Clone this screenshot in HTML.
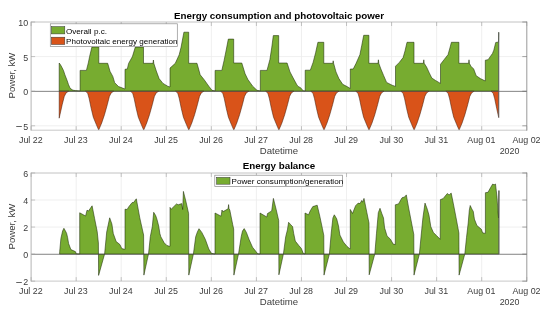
<!DOCTYPE html>
<html><head><meta charset="utf-8"><title>Energy consumption and photovoltaic power</title>
<style>
html,body{margin:0;padding:0;background:#fff;}
body{width:550px;height:315px;overflow:hidden;}
svg{display:block;font-family:"Liberation Sans",sans-serif;}
.tk{font-size:8.9px;fill:#3c3c3c;}
.lb{font-size:9.6px;fill:#3c3c3c;}
.tt{font-size:9.8px;font-weight:bold;fill:#000;}
.lg{font-size:8.1px;fill:#000;}
</style></head><body>
<svg width="550" height="315" viewBox="0 0 550 315">
<rect width="550" height="315" fill="#fff"/>
<g id="top-plot">
<line x1="76.16" y1="22.0" x2="76.16" y2="130.2" stroke="#ebebeb" stroke-width="0.8"/>
<line x1="121.22" y1="22.0" x2="121.22" y2="130.2" stroke="#ebebeb" stroke-width="0.8"/>
<line x1="166.28" y1="22.0" x2="166.28" y2="130.2" stroke="#ebebeb" stroke-width="0.8"/>
<line x1="211.34" y1="22.0" x2="211.34" y2="130.2" stroke="#ebebeb" stroke-width="0.8"/>
<line x1="256.40" y1="22.0" x2="256.40" y2="130.2" stroke="#ebebeb" stroke-width="0.8"/>
<line x1="301.46" y1="22.0" x2="301.46" y2="130.2" stroke="#ebebeb" stroke-width="0.8"/>
<line x1="346.52" y1="22.0" x2="346.52" y2="130.2" stroke="#ebebeb" stroke-width="0.8"/>
<line x1="391.58" y1="22.0" x2="391.58" y2="130.2" stroke="#ebebeb" stroke-width="0.8"/>
<line x1="436.64" y1="22.0" x2="436.64" y2="130.2" stroke="#ebebeb" stroke-width="0.8"/>
<line x1="481.70" y1="22.0" x2="481.70" y2="130.2" stroke="#ebebeb" stroke-width="0.8"/>
<line x1="31.1" y1="56.60" x2="526.8" y2="56.60" stroke="#ebebeb" stroke-width="0.8"/>
<line x1="31.1" y1="91.20" x2="526.8" y2="91.20" stroke="#ebebeb" stroke-width="0.8"/>
<line x1="31.1" y1="125.80" x2="526.8" y2="125.80" stroke="#ebebeb" stroke-width="0.8"/>
<path d="M59.2,91.2 L59.2,63.0 L60.5,64.8 L62.0,67.5 L63.5,70.5 L64.8,74.5 L66.0,77.6 L67.3,81.0 L68.5,84.6 L69.8,87.5 L71.1,89.1 L73.0,90.2 L75.5,90.6 L80.1,90.9 L80.1,70.4 L86.4,70.4 L88.3,62.9 L89.6,56.5 L91.9,47.0 L98.8,47.0 L98.8,63.3 L107.7,63.3 L110.0,71.3 L112.8,76.4 L114.7,82.7 L118.5,86.5 L124.5,88.8 L125.0,88.8 L125.0,69.3 L127.3,69.0 L128.6,63.4 L132.4,56.6 L135.3,47.1 L143.5,47.1 L143.5,63.3 L153.0,63.3 L153.4,60.0 L153.8,63.3 L156.3,71.0 L159.1,78.6 L163.0,83.4 L167.7,86.2 L170.0,87.0 L170.0,68.1 L175.3,63.3 L179.2,54.7 L181.1,47.1 L183.9,32.2 L188.7,32.2 L188.7,63.3 L197.0,63.3 L200.2,74.8 L204.0,79.5 L208.8,86.2 L212.0,90.3 L215.1,90.9 L215.1,70.4 L221.8,70.4 L224.1,60.4 L226.4,49.0 L228.3,39.1 L233.7,39.1 L233.7,63.0 L241.8,63.0 L245.1,73.8 L247.9,79.5 L252.7,86.2 L257.0,90.3 L260.3,90.9 L260.3,70.4 L267.0,70.4 L269.9,59.5 L271.8,47.1 L273.3,35.6 L278.7,35.6 L278.7,63.0 L287.1,63.0 L290.0,71.9 L293.2,78.0 L296.6,84.3 L298.0,86.4 L300.6,87.7 L303.2,90.8 L305.2,91.0 L305.2,70.2 L310.3,70.2 L313.1,62.4 L315.6,52.8 L317.9,42.3 L323.8,42.3 L323.8,63.3 L332.8,63.3 L333.2,60.8 L333.6,63.3 L336.0,71.9 L338.9,78.6 L342.7,84.3 L347.5,86.8 L350.3,88.5 L350.3,69.0 L353.2,69.0 L356.1,63.3 L359.9,54.7 L361.8,45.2 L363.7,35.3 L368.9,35.3 L368.9,63.3 L378.0,63.3 L378.4,59.8 L378.8,63.3 L380.9,69.0 L383.7,75.7 L386.6,82.4 L392.3,85.3 L395.5,86.4 L395.5,66.2 L399.3,62.4 L403.1,57.6 L405.0,50.9 L407.0,42.3 L414.0,42.3 L414.0,63.3 L423.4,63.3 L423.8,59.8 L424.2,63.3 L426.6,67.1 L429.3,72.9 L431.8,78.0 L435.6,80.5 L440.5,83.4 L440.5,64.3 L444.2,59.5 L448.0,54.7 L449.9,48.0 L451.4,42.3 L458.9,42.3 L458.9,63.3 L468.6,63.3 L469.0,59.8 L469.4,63.3 L470.9,66.2 L473.7,69.0 L476.2,75.7 L480.4,78.6 L485.3,81.0 L485.3,60.2 L488.1,59.7 L492.5,53.4 L493.8,50.2 L495.7,42.5 L498.5,42.0 L498.7,32.3 L498.7,91.2Z" fill="#77ac30" stroke="#1c2a08" stroke-width="0.55" stroke-linejoin="round"/>
<path d="M59.2,91.2 L59.2,118.2 L62.2,104.7 L64.3,96.4 L66.1,92.9 L68.6,91.2Z" fill="#d95319" stroke="#3a1505" stroke-width="0.5" stroke-linejoin="round"/>
<path d="M85.5,91.2 L87.7,93.3 L89.2,98.8 L91.2,108.5 L93.3,117.2 L96.1,124.1 L98.7,130.1 L101.7,123.0 L104.5,114.7 L107.3,104.7 L109.4,96.4 L111.2,92.9 L113.7,91.2Z" fill="#d95319" stroke="#3a1505" stroke-width="0.5" stroke-linejoin="round"/>
<path d="M130.5,91.2 L132.7,93.3 L134.2,98.8 L136.2,108.5 L138.3,117.2 L141.1,124.1 L143.7,130.1 L146.7,123.0 L149.5,114.7 L152.3,104.7 L154.4,96.4 L156.2,92.9 L158.7,91.2Z" fill="#d95319" stroke="#3a1505" stroke-width="0.5" stroke-linejoin="round"/>
<path d="M175.6,91.2 L177.8,93.3 L179.3,98.8 L181.3,108.5 L183.4,117.2 L186.2,124.1 L188.8,130.1 L191.8,123.0 L194.6,114.7 L197.4,104.7 L199.5,96.4 L201.3,92.9 L203.8,91.2Z" fill="#d95319" stroke="#3a1505" stroke-width="0.5" stroke-linejoin="round"/>
<path d="M220.6,91.2 L222.8,93.3 L224.3,98.8 L226.3,108.5 L228.4,117.2 L231.2,124.1 L233.8,130.1 L236.8,123.0 L239.6,114.7 L242.4,104.7 L244.5,96.4 L246.3,92.9 L248.8,91.2Z" fill="#d95319" stroke="#3a1505" stroke-width="0.5" stroke-linejoin="round"/>
<path d="M265.7,91.2 L267.9,93.3 L269.4,98.8 L271.4,108.5 L273.5,117.2 L276.3,124.1 L278.9,130.1 L281.9,123.0 L284.7,114.7 L287.5,104.7 L289.6,96.4 L291.4,92.9 L293.9,91.2Z" fill="#d95319" stroke="#3a1505" stroke-width="0.5" stroke-linejoin="round"/>
<path d="M310.8,91.2 L313.0,93.3 L314.5,98.8 L316.5,108.5 L318.6,117.2 L321.4,124.1 L324.0,130.1 L327.0,123.0 L329.8,114.7 L332.6,104.7 L334.7,96.4 L336.5,92.9 L339.0,91.2Z" fill="#d95319" stroke="#3a1505" stroke-width="0.5" stroke-linejoin="round"/>
<path d="M355.8,91.2 L358.0,93.3 L359.5,98.8 L361.5,108.5 L363.6,117.2 L366.4,124.1 L369.0,130.1 L372.0,123.0 L374.8,114.7 L377.6,104.7 L379.7,96.4 L381.5,92.9 L384.0,91.2Z" fill="#d95319" stroke="#3a1505" stroke-width="0.5" stroke-linejoin="round"/>
<path d="M400.9,91.2 L403.1,93.3 L404.6,98.8 L406.6,108.5 L408.7,117.2 L411.5,124.1 L414.1,130.1 L417.1,123.0 L419.9,114.7 L422.7,104.7 L424.8,96.4 L426.6,92.9 L429.1,91.2Z" fill="#d95319" stroke="#3a1505" stroke-width="0.5" stroke-linejoin="round"/>
<path d="M445.9,91.2 L448.1,93.3 L449.6,98.8 L451.6,108.5 L453.7,117.2 L456.5,124.1 L459.1,130.1 L462.1,123.0 L464.9,114.7 L467.7,104.7 L469.8,96.4 L471.6,92.9 L474.1,91.2Z" fill="#d95319" stroke="#3a1505" stroke-width="0.5" stroke-linejoin="round"/>
<path d="M491.0,91.2 L493.2,93.3 L494.7,98.8 L496.7,108.5 L498.7,117.5 L498.7,91.2Z" fill="#d95319" stroke="#3a1505" stroke-width="0.5" stroke-linejoin="round"/>
<line x1="31.1" y1="91.4" x2="526.8" y2="91.4" stroke="#505050" stroke-width="0.65"/>
<line x1="498.7" y1="32.3" x2="498.7" y2="117.5" stroke="#666" stroke-width="0.8"/>
</g>
<line x1="31.1" y1="21.5" x2="31.1" y2="130.7" stroke="#b4b4b4" stroke-width="1"/>
<line x1="31.1" y1="22.0" x2="526.8" y2="22.0" stroke="#c2c2c2" stroke-width="1"/>
<line x1="31.1" y1="130.2" x2="526.8" y2="130.2" stroke="#c8c8c8" stroke-width="1"/>
<line x1="526.8" y1="21.5" x2="526.8" y2="130.7" stroke="#808080" stroke-width="0.8"/>
<line x1="31.10" y1="130.2" x2="31.10" y2="126.19999999999999" stroke="#a0a0a0" stroke-width="0.6"/>
<line x1="31.10" y1="22.0" x2="31.10" y2="26.0" stroke="#a0a0a0" stroke-width="0.6"/>
<line x1="76.16" y1="130.2" x2="76.16" y2="126.19999999999999" stroke="#a0a0a0" stroke-width="0.6"/>
<line x1="76.16" y1="22.0" x2="76.16" y2="26.0" stroke="#a0a0a0" stroke-width="0.6"/>
<line x1="121.22" y1="130.2" x2="121.22" y2="126.19999999999999" stroke="#a0a0a0" stroke-width="0.6"/>
<line x1="121.22" y1="22.0" x2="121.22" y2="26.0" stroke="#a0a0a0" stroke-width="0.6"/>
<line x1="166.28" y1="130.2" x2="166.28" y2="126.19999999999999" stroke="#a0a0a0" stroke-width="0.6"/>
<line x1="166.28" y1="22.0" x2="166.28" y2="26.0" stroke="#a0a0a0" stroke-width="0.6"/>
<line x1="211.34" y1="130.2" x2="211.34" y2="126.19999999999999" stroke="#a0a0a0" stroke-width="0.6"/>
<line x1="211.34" y1="22.0" x2="211.34" y2="26.0" stroke="#a0a0a0" stroke-width="0.6"/>
<line x1="256.40" y1="130.2" x2="256.40" y2="126.19999999999999" stroke="#a0a0a0" stroke-width="0.6"/>
<line x1="256.40" y1="22.0" x2="256.40" y2="26.0" stroke="#a0a0a0" stroke-width="0.6"/>
<line x1="301.46" y1="130.2" x2="301.46" y2="126.19999999999999" stroke="#a0a0a0" stroke-width="0.6"/>
<line x1="301.46" y1="22.0" x2="301.46" y2="26.0" stroke="#a0a0a0" stroke-width="0.6"/>
<line x1="346.52" y1="130.2" x2="346.52" y2="126.19999999999999" stroke="#a0a0a0" stroke-width="0.6"/>
<line x1="346.52" y1="22.0" x2="346.52" y2="26.0" stroke="#a0a0a0" stroke-width="0.6"/>
<line x1="391.58" y1="130.2" x2="391.58" y2="126.19999999999999" stroke="#a0a0a0" stroke-width="0.6"/>
<line x1="391.58" y1="22.0" x2="391.58" y2="26.0" stroke="#a0a0a0" stroke-width="0.6"/>
<line x1="436.64" y1="130.2" x2="436.64" y2="126.19999999999999" stroke="#a0a0a0" stroke-width="0.6"/>
<line x1="436.64" y1="22.0" x2="436.64" y2="26.0" stroke="#a0a0a0" stroke-width="0.6"/>
<line x1="481.70" y1="130.2" x2="481.70" y2="126.19999999999999" stroke="#a0a0a0" stroke-width="0.6"/>
<line x1="481.70" y1="22.0" x2="481.70" y2="26.0" stroke="#a0a0a0" stroke-width="0.6"/>
<line x1="526.76" y1="130.2" x2="526.76" y2="126.19999999999999" stroke="#a0a0a0" stroke-width="0.6"/>
<line x1="526.76" y1="22.0" x2="526.76" y2="26.0" stroke="#a0a0a0" stroke-width="0.6"/>
<line x1="31.1" y1="22.00" x2="35.1" y2="22.00" stroke="#a0a0a0" stroke-width="0.6"/>
<line x1="526.8" y1="22.00" x2="522.3" y2="22.00" stroke="#6a6a6a" stroke-width="0.6"/>
<text class="tk" x="28.2" y="25.9" text-anchor="end">10</text>
<line x1="31.1" y1="56.60" x2="35.1" y2="56.60" stroke="#a0a0a0" stroke-width="0.6"/>
<line x1="526.8" y1="56.60" x2="522.3" y2="56.60" stroke="#6a6a6a" stroke-width="0.6"/>
<text class="tk" x="28.2" y="60.5" text-anchor="end">5</text>
<line x1="31.1" y1="91.20" x2="35.1" y2="91.20" stroke="#a0a0a0" stroke-width="0.6"/>
<line x1="526.8" y1="91.20" x2="522.3" y2="91.20" stroke="#6a6a6a" stroke-width="0.6"/>
<text class="tk" x="28.2" y="95.1" text-anchor="end">0</text>
<line x1="31.1" y1="125.80" x2="35.1" y2="125.80" stroke="#a0a0a0" stroke-width="0.6"/>
<line x1="526.8" y1="125.80" x2="522.3" y2="125.80" stroke="#6a6a6a" stroke-width="0.6"/>
<text class="tk" x="28.2" y="129.7" text-anchor="end"><tspan style="font-size:11.5px" dy="0.7">−</tspan><tspan dx="0.9" dy="-0.7">5</tspan></text>
<text class="tk" x="30.8" y="142.7" text-anchor="middle">Jul 22</text>
<text class="tk" x="75.9" y="142.7" text-anchor="middle">Jul 23</text>
<text class="tk" x="120.9" y="142.7" text-anchor="middle">Jul 24</text>
<text class="tk" x="166.0" y="142.7" text-anchor="middle">Jul 25</text>
<text class="tk" x="211.0" y="142.7" text-anchor="middle">Jul 26</text>
<text class="tk" x="256.1" y="142.7" text-anchor="middle">Jul 27</text>
<text class="tk" x="301.2" y="142.7" text-anchor="middle">Jul 28</text>
<text class="tk" x="346.2" y="142.7" text-anchor="middle">Jul 29</text>
<text class="tk" x="391.3" y="142.7" text-anchor="middle">Jul 30</text>
<text class="tk" x="436.3" y="142.7" text-anchor="middle">Jul 31</text>
<text class="tk" x="481.4" y="142.7" text-anchor="middle">Aug 01</text>
<text class="tk" x="526.5" y="142.7" text-anchor="middle">Aug 02</text>
<text class="lb" x="279" y="154.2" text-anchor="middle">Datetime</text>
<text class="tk" x="509.5" y="153.6" text-anchor="middle">2020</text>
<text class="lb" transform="translate(14.6,75.6) rotate(-90)" text-anchor="middle">Power, kW</text>
<text class="tt" x="279" y="18.6" text-anchor="middle">Energy consumption and photovoltaic power</text>
<g id="legend-top"><rect x="50.3" y="23.8" width="127.0" height="22.8" fill="#fff" stroke="#8c8c8c" stroke-width="0.7"/>
<rect x="51.4" y="26.6" width="13.4" height="7.3" fill="#77ac30" stroke="#333" stroke-width="0.5"/>
<rect x="51.4" y="37.2" width="13.4" height="7.3" fill="#d95319" stroke="#333" stroke-width="0.5"/>
<text class="lg" x="66.0" y="33.5">Overall p.c.</text>
<text class="lg" x="66.0" y="43.8">Photovoltaic energy generation</text></g>
<g id="bottom-plot">
<line x1="76.16" y1="173.0" x2="76.16" y2="281.1" stroke="#ebebeb" stroke-width="0.8"/>
<line x1="121.22" y1="173.0" x2="121.22" y2="281.1" stroke="#ebebeb" stroke-width="0.8"/>
<line x1="166.28" y1="173.0" x2="166.28" y2="281.1" stroke="#ebebeb" stroke-width="0.8"/>
<line x1="211.34" y1="173.0" x2="211.34" y2="281.1" stroke="#ebebeb" stroke-width="0.8"/>
<line x1="256.40" y1="173.0" x2="256.40" y2="281.1" stroke="#ebebeb" stroke-width="0.8"/>
<line x1="301.46" y1="173.0" x2="301.46" y2="281.1" stroke="#ebebeb" stroke-width="0.8"/>
<line x1="346.52" y1="173.0" x2="346.52" y2="281.1" stroke="#ebebeb" stroke-width="0.8"/>
<line x1="391.58" y1="173.0" x2="391.58" y2="281.1" stroke="#ebebeb" stroke-width="0.8"/>
<line x1="436.64" y1="173.0" x2="436.64" y2="281.1" stroke="#ebebeb" stroke-width="0.8"/>
<line x1="481.70" y1="173.0" x2="481.70" y2="281.1" stroke="#ebebeb" stroke-width="0.8"/>
<line x1="31.1" y1="200.02" x2="526.8" y2="200.02" stroke="#ebebeb" stroke-width="0.8"/>
<line x1="31.1" y1="227.06" x2="526.8" y2="227.06" stroke="#ebebeb" stroke-width="0.8"/>
<line x1="31.1" y1="254.10" x2="526.8" y2="254.10" stroke="#ebebeb" stroke-width="0.8"/>
<path d="M59.6,254.1 L59.7,251.4 L60.9,238.4 L62.6,231.0 L63.9,228.3 L65.2,230.5 L66.6,233.3 L67.6,237.5 L68.6,243.5 L70.9,249.6 L75.4,251.6 L76.3,253.8 L79.7,254.0 L79.7,212.8 L85.6,216.0 L87.0,210.2 L88.5,211.0 L92.1,205.8 L94.6,218.5 L97.2,231.5 L98.4,243.0 L98.6,275.4 L104.6,254.0 L106.7,232.0 L109.7,217.8 L111.9,224.0 L113.3,233.6 L116.2,241.6 L119.9,244.5 L121.8,248.6 L124.6,249.3 L125.0,249.3 L125.0,209.2 L127.1,209.5 L129.0,206.4 L132.2,202.5 L133.5,202.6 L136.3,198.8 L139.8,217.9 L143.6,235.0 L143.9,275.1 L148.5,254.0 L150.3,236.7 L152.3,226.6 L153.7,212.3 L155.7,215.6 L157.0,219.4 L158.7,226.0 L159.9,233.6 L160.8,236.7 L164.2,242.8 L166.9,245.5 L169.5,246.3 L170.0,246.3 L170.0,207.4 L171.2,209.2 L176.5,203.9 L178.2,204.8 L181.7,203.6 L182.7,209.5 L183.4,191.4 L186.1,202.2 L188.6,213.5 L188.8,275.1 L193.4,254.0 L195.7,236.7 L197.4,231.9 L199.0,228.7 L201.8,232.4 L205.3,239.3 L208.8,249.0 L211.4,253.3 L215.0,254.0 L215.0,213.0 L221.1,216.2 L222.0,210.0 L222.8,211.8 L228.1,208.8 L228.6,204.6 L229.0,208.5 L229.8,210.0 L231.2,217.0 L232.7,224.5 L233.7,229.0 L233.9,275.1 L238.5,254.0 L241.2,236.7 L242.5,231.0 L244.2,228.6 L246.4,232.4 L249.0,239.3 L252.5,247.2 L256.0,251.6 L257.7,253.8 L260.0,254.0 L260.0,213.0 L266.8,217.0 L267.5,213.5 L271.7,210.9 L273.4,198.4 L276.1,209.2 L278.7,220.5 L278.9,274.8 L283.4,254.0 L285.7,236.7 L287.4,229.9 L288.6,222.3 L290.9,224.9 L292.6,226.6 L293.7,233.4 L295.3,241.1 L298.8,245.5 L301.4,248.6 L303.2,253.3 L305.0,254.0 L305.0,213.0 L308.5,214.8 L310.2,210.9 L312.8,206.6 L317.2,205.2 L319.8,216.2 L322.4,228.4 L323.8,235.5 L324.0,275.1 L329.4,254.0 L331.2,233.2 L332.9,217.9 L334.3,214.8 L336.7,218.8 L338.5,226.0 L339.9,235.0 L343.4,242.0 L346.9,246.3 L350.0,248.9 L350.3,248.9 L350.3,209.5 L352.5,213.5 L355.6,205.7 L358.2,203.1 L360.0,203.6 L361.7,200.5 L362.6,202.2 L364.0,198.4 L366.9,212.7 L369.0,223.1 L369.2,274.8 L374.8,254.0 L376.5,233.2 L378.3,212.7 L380.0,208.3 L381.8,213.5 L383.5,217.9 L384.6,228.0 L385.3,230.1 L387.0,235.9 L390.5,239.3 L393.2,244.1 L395.3,244.6 L395.3,204.8 L398.5,203.9 L402.0,197.8 L404.6,197.0 L406.3,194.9 L408.9,209.2 L411.6,223.1 L413.8,234.5 L414.0,275.1 L419.4,254.0 L421.2,235.0 L422.9,217.9 L425.0,203.1 L427.3,209.2 L429.0,215.3 L430.8,226.6 L433.4,232.5 L436.5,235.6 L440.2,239.3 L440.4,199.6 L443.0,198.7 L447.3,193.5 L449.1,194.9 L451.2,193.1 L453.4,203.9 L456.1,217.9 L458.9,233.0 L459.1,275.1 L464.8,254.0 L466.5,237.5 L468.2,223.0 L469.3,210.2 L470.2,205.5 L471.8,208.9 L473.3,211.5 L474.4,219.1 L476.9,225.5 L481.4,229.3 L482.6,232.8 L485.4,233.4 L485.4,192.7 L488.0,192.3 L490.6,187.5 L492.7,184.0 L494.1,184.8 L495.5,184.0 L497.0,197.0 L498.0,212.0 L498.5,218.0 L498.9,190.6 L498.9,254.1Z" fill="#77ac30" stroke="#1c2a08" stroke-width="0.55" stroke-linejoin="round"/>
<line x1="31.1" y1="254.29999999999998" x2="526.8" y2="254.29999999999998" stroke="#505050" stroke-width="0.65"/>
<line x1="498.9" y1="190.6" x2="498.9" y2="254.1" stroke="#666" stroke-width="0.8"/>
</g>
<line x1="31.1" y1="172.5" x2="31.1" y2="281.6" stroke="#b4b4b4" stroke-width="1"/>
<line x1="31.1" y1="173.0" x2="526.8" y2="173.0" stroke="#c2c2c2" stroke-width="1"/>
<line x1="31.1" y1="281.1" x2="526.8" y2="281.1" stroke="#c8c8c8" stroke-width="1"/>
<line x1="526.8" y1="172.5" x2="526.8" y2="281.6" stroke="#808080" stroke-width="0.8"/>
<line x1="31.10" y1="281.1" x2="31.10" y2="277.1" stroke="#a0a0a0" stroke-width="0.6"/>
<line x1="31.10" y1="173.0" x2="31.10" y2="177.0" stroke="#a0a0a0" stroke-width="0.6"/>
<line x1="76.16" y1="281.1" x2="76.16" y2="277.1" stroke="#a0a0a0" stroke-width="0.6"/>
<line x1="76.16" y1="173.0" x2="76.16" y2="177.0" stroke="#a0a0a0" stroke-width="0.6"/>
<line x1="121.22" y1="281.1" x2="121.22" y2="277.1" stroke="#a0a0a0" stroke-width="0.6"/>
<line x1="121.22" y1="173.0" x2="121.22" y2="177.0" stroke="#a0a0a0" stroke-width="0.6"/>
<line x1="166.28" y1="281.1" x2="166.28" y2="277.1" stroke="#a0a0a0" stroke-width="0.6"/>
<line x1="166.28" y1="173.0" x2="166.28" y2="177.0" stroke="#a0a0a0" stroke-width="0.6"/>
<line x1="211.34" y1="281.1" x2="211.34" y2="277.1" stroke="#a0a0a0" stroke-width="0.6"/>
<line x1="211.34" y1="173.0" x2="211.34" y2="177.0" stroke="#a0a0a0" stroke-width="0.6"/>
<line x1="256.40" y1="281.1" x2="256.40" y2="277.1" stroke="#a0a0a0" stroke-width="0.6"/>
<line x1="256.40" y1="173.0" x2="256.40" y2="177.0" stroke="#a0a0a0" stroke-width="0.6"/>
<line x1="301.46" y1="281.1" x2="301.46" y2="277.1" stroke="#a0a0a0" stroke-width="0.6"/>
<line x1="301.46" y1="173.0" x2="301.46" y2="177.0" stroke="#a0a0a0" stroke-width="0.6"/>
<line x1="346.52" y1="281.1" x2="346.52" y2="277.1" stroke="#a0a0a0" stroke-width="0.6"/>
<line x1="346.52" y1="173.0" x2="346.52" y2="177.0" stroke="#a0a0a0" stroke-width="0.6"/>
<line x1="391.58" y1="281.1" x2="391.58" y2="277.1" stroke="#a0a0a0" stroke-width="0.6"/>
<line x1="391.58" y1="173.0" x2="391.58" y2="177.0" stroke="#a0a0a0" stroke-width="0.6"/>
<line x1="436.64" y1="281.1" x2="436.64" y2="277.1" stroke="#a0a0a0" stroke-width="0.6"/>
<line x1="436.64" y1="173.0" x2="436.64" y2="177.0" stroke="#a0a0a0" stroke-width="0.6"/>
<line x1="481.70" y1="281.1" x2="481.70" y2="277.1" stroke="#a0a0a0" stroke-width="0.6"/>
<line x1="481.70" y1="173.0" x2="481.70" y2="177.0" stroke="#a0a0a0" stroke-width="0.6"/>
<line x1="526.76" y1="281.1" x2="526.76" y2="277.1" stroke="#a0a0a0" stroke-width="0.6"/>
<line x1="526.76" y1="173.0" x2="526.76" y2="177.0" stroke="#a0a0a0" stroke-width="0.6"/>
<line x1="31.1" y1="172.98" x2="35.1" y2="172.98" stroke="#a0a0a0" stroke-width="0.6"/>
<line x1="526.8" y1="172.98" x2="522.3" y2="172.98" stroke="#6a6a6a" stroke-width="0.6"/>
<text class="tk" x="28.2" y="176.9" text-anchor="end">6</text>
<line x1="31.1" y1="200.02" x2="35.1" y2="200.02" stroke="#a0a0a0" stroke-width="0.6"/>
<line x1="526.8" y1="200.02" x2="522.3" y2="200.02" stroke="#6a6a6a" stroke-width="0.6"/>
<text class="tk" x="28.2" y="203.9" text-anchor="end">4</text>
<line x1="31.1" y1="227.06" x2="35.1" y2="227.06" stroke="#a0a0a0" stroke-width="0.6"/>
<line x1="526.8" y1="227.06" x2="522.3" y2="227.06" stroke="#6a6a6a" stroke-width="0.6"/>
<text class="tk" x="28.2" y="231.0" text-anchor="end">2</text>
<line x1="31.1" y1="254.10" x2="35.1" y2="254.10" stroke="#a0a0a0" stroke-width="0.6"/>
<line x1="526.8" y1="254.10" x2="522.3" y2="254.10" stroke="#6a6a6a" stroke-width="0.6"/>
<text class="tk" x="28.2" y="258.0" text-anchor="end">0</text>
<line x1="31.1" y1="281.14" x2="35.1" y2="281.14" stroke="#a0a0a0" stroke-width="0.6"/>
<line x1="526.8" y1="281.14" x2="522.3" y2="281.14" stroke="#6a6a6a" stroke-width="0.6"/>
<text class="tk" x="28.2" y="285.0" text-anchor="end"><tspan style="font-size:11.5px" dy="0.7">−</tspan><tspan dx="0.9" dy="-0.7">2</tspan></text>
<text class="tk" x="30.8" y="293.6" text-anchor="middle">Jul 22</text>
<text class="tk" x="75.9" y="293.6" text-anchor="middle">Jul 23</text>
<text class="tk" x="120.9" y="293.6" text-anchor="middle">Jul 24</text>
<text class="tk" x="166.0" y="293.6" text-anchor="middle">Jul 25</text>
<text class="tk" x="211.0" y="293.6" text-anchor="middle">Jul 26</text>
<text class="tk" x="256.1" y="293.6" text-anchor="middle">Jul 27</text>
<text class="tk" x="301.2" y="293.6" text-anchor="middle">Jul 28</text>
<text class="tk" x="346.2" y="293.6" text-anchor="middle">Jul 29</text>
<text class="tk" x="391.3" y="293.6" text-anchor="middle">Jul 30</text>
<text class="tk" x="436.3" y="293.6" text-anchor="middle">Jul 31</text>
<text class="tk" x="481.4" y="293.6" text-anchor="middle">Aug 01</text>
<text class="tk" x="526.5" y="293.6" text-anchor="middle">Aug 02</text>
<text class="lb" x="279" y="305.1" text-anchor="middle">Datetime</text>
<text class="tk" x="509.5" y="304.5" text-anchor="middle">2020</text>
<text class="lb" transform="translate(14.6,226.6) rotate(-90)" text-anchor="middle">Power, kW</text>
<text class="tt" x="279" y="169.3" text-anchor="middle">Energy balance</text>
<g id="legend-bottom"><rect x="214.8" y="175.2" width="127.8" height="11.4" fill="#fff" stroke="#8c8c8c" stroke-width="0.7"/>
<rect x="216.6" y="177.4" width="13.4" height="6.8" fill="#77ac30" stroke="#333" stroke-width="0.5"/>
<text class="lg" x="231.6" y="183.8">Power consumption/generation</text></g>
</svg></body></html>
